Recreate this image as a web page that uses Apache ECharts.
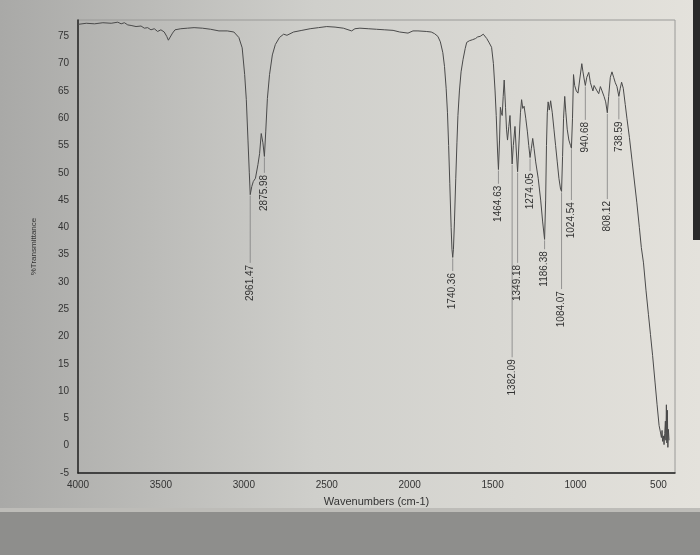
<!DOCTYPE html>
<html>
<head>
<meta charset="utf-8">
<script src="https://cdn.jsdelivr.net/npm/echarts@6/dist/echarts.min.js"></script>
<style>html,body{margin:0;padding:0;}#c{width:700px;height:555px;}</style>
</head>
<body>
<div id="c"></div>
<script>
// Wavenumbers (cm-1)
const wavenumbers = [4000,3950,3900,3850,3800,3760,3740,3720,3700,3680,3650,3620,3600,3580,3560,3540,3520,3500,3480,3465,3455,3445,3430,3415,3380,3340,3300,3250,3200,3150,3100,3060,3030,3010,2995,2985,2975,2967,2961.47,2952,2943,2930,2915,2905,2895,2885,2875.98,2868,2858,2845,2828,2810,2785,2760,2740,2700,2650,2600,2550,2500,2450,2400,2350,2330,2300,2250,2200,2150,2100,2060,2010,1980,1950,1900,1870,1850,1830,1815,1800,1790,1780,1772,1765,1758,1750,1745,1740.36,1736,1730,1722,1715,1709,1700,1690,1678,1665,1656,1640,1620,1603,1590,1575,1556,1545,1535,1520,1506,1495,1485,1478,1470,1464.63,1458,1453,1447,1442,1436,1430,1422,1416,1410,1402,1395,1388,1382.09,1375,1365,1357,1349.18,1340,1332,1325,1318,1310,1300,1290,1282,1274.05,1266,1258,1250,1240,1225,1210,1198,1186.38,1180,1175,1170,1165,1158,1150,1140,1130,1120,1110,1100,1090,1084.07,1078,1072,1065,1058,1050,1040,1030,1024.54,1018,1012,1005,995,985,975,962,955,948,940.68,932,920,910,895,888,880,870,860,850,840,828,818,808.12,800,790,780,770,760,750,738.59,730,722,712,700,690,675,660,645,630,615,603,590,575,560,548,535,520,508,496,488,482,478,475,470,466,462,458,455,452,449,446,443,440,436];
// %Transmittance values
const transmittance = [77.2,77.4,77.3,77.5,77.4,77.6,77.3,77.5,77.1,77.0,76.8,76.9,76.5,76.6,76.2,76.4,75.9,76.2,75.8,75.0,74.3,74.6,75.6,76.2,76.4,76.5,76.6,76.5,76.3,76.0,76.0,75.8,74.8,72.9,68,63.4,56,50,46,47.5,48.4,49,51.5,53.5,57.2,55.5,53,57.5,63.6,68,71.6,73.5,74.8,75.4,75.2,75.8,76.1,76.4,76.6,76.8,76.7,76.5,76.0,76.4,76.5,76.4,76.3,76.2,76.1,75.8,75.6,76.0,76.0,75.9,75.8,75.5,75.0,74,72,69.5,65.5,61,55,48,40,36,34.5,36,41,49,55.5,60.5,65,68.5,70.8,72.8,73.9,74.2,74.4,74.6,74.9,75.0,75.4,75.1,74.6,73.8,73,70,65,60.5,54,50.6,56,62,61,60.5,64,67,62,58,56,58.5,60.5,56,51.6,55,58.5,54,50.2,56,61,63.4,61.8,62.2,60,57.5,55,52.8,54.5,56.3,54.5,52,49,45,41,37.8,45,55,61,63,61.5,63.2,61,58,55,52,49,47,46.6,53,60,64,61,58,56,55,54.5,60,68,66,65,64.6,67,70,68.5,67.2,66,67.5,68.4,66.5,65,66,66.2,65,64.5,65.8,65,64,63,61,64,67.5,68.5,67.5,66.5,65.8,64,65.5,66.6,65.5,62.5,60,56.5,52.5,48.5,44.5,40,36.3,33.5,28.5,24,20.4,16.5,11.5,7.5,3.7,2.5,1.5,2.8,0.8,1.8,0.2,2.2,4.5,1.0,7.5,0.5,6.5,-0.3,3,1];
// Peak labels and where their leader lines end (in %T)
const peakLabels = ['2961.47','2875.98','1740.36','1464.63','1382.09','1349.18','1274.05','1186.38','1084.07','1024.54','940.68','808.12','738.59'];
const peakLabelEnd = [33.5,50,32,48,16.2,33.5,50.3,36,28.7,45,59.7,45.2,59.8];
const yTicks = [-5,0,5,10,15,20,25,30,35,40,45,50,55,60,65,70,75];
const xTicks = [4000,3500,3000,2500,2000,1500,1000,500];

const chart = echarts.init(document.getElementById('c'), null, {renderer: 'canvas'});
const lineData = wavenumbers.map((w, i) => [w, transmittance[i]]);
const peakData = peakLabels.map((lab, i) => {
  const w = parseFloat(lab);
  const idx = wavenumbers.indexOf(w);
  return [w, transmittance[idx], peakLabelEnd[i], lab];
});
const font = 'Liberation Sans, Arial, sans-serif';

chart.setOption({
  backgroundColor: {
    type: 'linear', x: 0, y: 0, x2: 1, y2: 0,
    colorStops: [
      {offset: 0, color: '#a9a9a7'},
      {offset: 0.45, color: '#cfcfcb'},
      {offset: 1, color: '#e4e2dc'}
    ]
  },
  animation: false,
  graphic: [
    {type: 'rect', shape: {x: 0, y: 512, width: 700, height: 43}, style: {fill: '#8e8e8c'}, z: -10},
    {type: 'rect', shape: {x: 0, y: 508, width: 700, height: 4}, style: {fill: '#bdbcb8'}, z: -10},
    {type: 'rect', shape: {x: 693, y: 0, width: 7, height: 240}, style: {fill: '#2a2a2a'}, z: -10}
  ],
  grid: {left: 78, right: 25, top: 20, bottom: 82, show: true, borderColor: '#9a9a98', borderWidth: 1},
  xAxis: {
    type: 'value', inverse: true, min: 400, max: 4000, interval: 100,
    name: 'Wavenumbers (cm-1)', nameLocation: 'middle', nameGap: 23,
    nameTextStyle: {fontSize: 11, color: '#333', fontFamily: font},
    axisLine: {show: true, onZero: false, lineStyle: {color: '#222', width: 1.5}},
    axisTick: {show: false},
    splitLine: {show: false},
    axisLabel: {
      fontSize: 10, color: '#333', fontFamily: font, margin: 7,
      formatter: v => (xTicks.indexOf(v) >= 0 ? String(v) : '')
    }
  },
  yAxis: {
    type: 'value', min: -5, max: 78, interval: 5,
    name: '%Transmittance', nameLocation: 'middle', nameGap: 40, nameRotate: 90,
    nameTextStyle: {fontSize: 8, color: '#333', fontFamily: font},
    axisLine: {show: true, onZero: false, lineStyle: {color: '#222', width: 1.5}},
    axisTick: {show: false},
    splitLine: {show: false},
    axisLabel: {
      fontSize: 10, color: '#333', fontFamily: font, margin: 9,
      formatter: v => (yTicks.indexOf(v) >= 0 ? String(v) : '')
    }
  },
  series: [
    {
      type: 'line', data: lineData, symbol: 'none', smooth: false,
      lineStyle: {color: '#4a4a4a', width: 1}, z: 3
    },
    {
      type: 'custom', data: peakData, z: 2,
      renderItem: function (params, api) {
        const w = api.value(0), tMin = api.value(1), tEnd = api.value(2);
        const label = peakLabels[params.dataIndex];
        const p1 = api.coord([w, tMin]);
        const p2 = api.coord([w, tEnd]);
        return {
          type: 'group',
          children: [
            {type: 'line', shape: {x1: p1[0], y1: p1[1] + 1, x2: p2[0], y2: p2[1]},
             style: {stroke: '#808080', lineWidth: 0.8}},
            {type: 'text', x: p2[0], y: p2[1] + 2, rotation: Math.PI / 2,
             style: {text: label, textAlign: 'right', textVerticalAlign: 'middle',
                     fontSize: 10, fill: '#333', fontFamily: font}}
          ]
        };
      }
    }
  ]
});
</script>
</body>
</html>
